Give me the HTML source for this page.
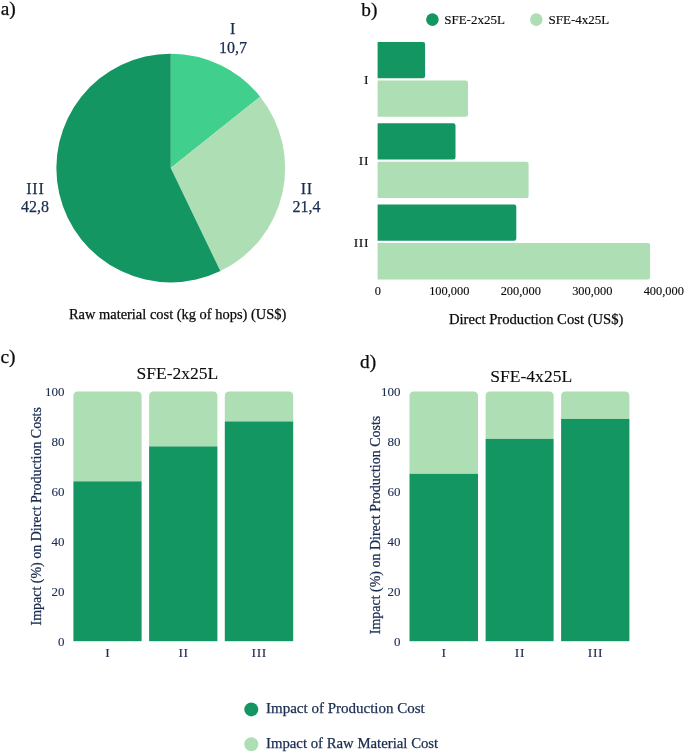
<!DOCTYPE html>
<html lang="en"><head><meta charset="utf-8"><title>Figure</title>
<style>
html,body{margin:0;padding:0;background:#fff;}
body{width:685px;height:752px;overflow:hidden;}
svg{display:block;}
text{font-family:"Liberation Serif","Times New Roman",serif;}
.nv{fill:#1a2c51;stroke:#1a2c51;stroke-width:0.25px;}
.bk{fill:#0a0a0a;stroke:#0a0a0a;stroke-width:0.25px;}
.lg{stroke-width:0.15px;}
.rn{letter-spacing:0.05em;}
.tk{stroke-width:0.12px;}
.tt{stroke-width:0.1px;}
</style></head><body>
<svg width="685" height="752" viewBox="0 0 685 752">
<rect width="685" height="752" fill="#fff"/>
<text x="0.8" y="14.8" font-size="19.3" class="bk" text-anchor="start">a)</text>
<text x="361.3" y="15.8" font-size="19.3" class="bk" text-anchor="start">b)</text>
<text x="0.5" y="362.6" font-size="19.3" class="bk" text-anchor="start">c)</text>
<text x="360.1" y="367.8" font-size="19.3" class="bk" text-anchor="start">d)</text>
<path d="M170.75,168.05 L170.75,53.65 A114.4,114.4 0 0 1 260.19,96.72 Z" fill="#40CF8C"/>
<path d="M170.75,168.05 L260.19,96.72 A114.4,114.4 0 0 1 220.39,271.12 Z" fill="#AEDEB4"/>
<path d="M170.75,168.05 L220.39,271.12 A114.4,114.4 0 1 1 170.75,53.65 Z" fill="#139662"/>
<text x="233" y="33.6" font-size="16" class="nv rn" text-anchor="middle">I</text>
<text x="233" y="52.5" font-size="16" class="nv" text-anchor="middle">10,7</text>
<text x="306.8" y="193.6" font-size="16" class="nv rn" text-anchor="middle">II</text>
<text x="306.4" y="212.2" font-size="16" class="nv" text-anchor="middle">21,4</text>
<text x="35.4" y="193.6" font-size="16" class="nv rn" text-anchor="middle">III</text>
<text x="35" y="212.2" font-size="16" class="nv" text-anchor="middle">42,8</text>
<text x="177.6" y="319.4" font-size="14.45" class="bk" text-anchor="middle">Raw material cost (kg of hops) (US$)</text>
<circle cx="432.4" cy="19.6" r="6.3" fill="#139662"/>
<text x="444.2" y="24.4" font-size="13" class="bk lg" text-anchor="start">SFE-2x25L</text>
<circle cx="536.3" cy="19.6" r="6.3" fill="#AEDEB4"/>
<text x="548.5" y="24.4" font-size="13" class="bk lg" text-anchor="start">SFE-4x25L</text>
<path d="M377.6,41.90 H422.90 Q425.10,41.90 425.10,44.10 V76.00 Q425.10,78.20 422.90,78.20 H377.6 Z" fill="#139662"/>
<path d="M377.6,80.50 H465.80 Q468.00,80.50 468.00,82.70 V114.60 Q468.00,116.80 465.80,116.80 H377.6 Z" fill="#AEDEB4"/>
<path d="M377.6,123.20 H453.30 Q455.50,123.20 455.50,125.40 V157.30 Q455.50,159.50 453.30,159.50 H377.6 Z" fill="#139662"/>
<path d="M377.6,161.80 H526.40 Q528.60,161.80 528.60,164.00 V195.90 Q528.60,198.10 526.40,198.10 H377.6 Z" fill="#AEDEB4"/>
<path d="M377.6,204.50 H514.10 Q516.30,204.50 516.30,206.70 V238.60 Q516.30,240.80 514.10,240.80 H377.6 Z" fill="#139662"/>
<path d="M377.6,243.10 H647.90 Q650.10,243.10 650.10,245.30 V277.20 Q650.10,279.40 647.90,279.40 H377.6 Z" fill="#AEDEB4"/>
<text x="369.2" y="84.0" font-size="13.5" class="bk lg rn" text-anchor="end">I</text>
<text x="369.2" y="165.3" font-size="13.5" class="bk lg rn" text-anchor="end">II</text>
<text x="369.2" y="246.6" font-size="13.5" class="bk lg rn" text-anchor="end">III</text>
<text x="377.8" y="294.6" font-size="12.4" class="bk tk" text-anchor="middle">0</text>
<text x="449.3" y="294.6" font-size="12.4" class="bk tk" text-anchor="middle">100,000</text>
<text x="520.8" y="294.6" font-size="12.4" class="bk tk" text-anchor="middle">200,000</text>
<text x="592.3" y="294.6" font-size="12.4" class="bk tk" text-anchor="middle">300,000</text>
<text x="663.8" y="294.6" font-size="12.4" class="bk tk" text-anchor="middle">400,000</text>
<text x="536.2" y="324" font-size="14.65" class="bk" text-anchor="middle">Direct Production Cost (US$)</text>
<path d="M73.4,481.39 V396.0 Q73.4,391.5 77.9,391.5 H137.1 Q141.6,391.5 141.6,396.0 V481.39 Z" fill="#AEDEB4"/>
<rect x="73.4" y="481.39" width="68.20" height="159.81" fill="#139662"/>
<path d="M149.1,446.43 V396.0 Q149.1,391.5 153.6,391.5 H212.9 Q217.4,391.5 217.4,396.0 V446.43 Z" fill="#AEDEB4"/>
<rect x="149.1" y="446.43" width="68.30" height="194.77" fill="#139662"/>
<path d="M224.8,421.46 V396.0 Q224.8,391.5 229.3,391.5 H288.7 Q293.2,391.5 293.2,396.0 V421.46 Z" fill="#AEDEB4"/>
<rect x="224.8" y="421.46" width="68.40" height="219.74" fill="#139662"/>
<text x="107.8" y="657.0" font-size="13.5" class="nv lg rn" text-anchor="middle">I</text>
<text x="183.55" y="657.0" font-size="13.5" class="nv lg rn" text-anchor="middle">II</text>
<text x="259.3" y="657.0" font-size="13.5" class="nv lg rn" text-anchor="middle">III</text>
<text x="64.6" y="645.5" font-size="13" class="nv tk" text-anchor="end">0</text>
<text x="64.6" y="595.5" font-size="13" class="nv tk" text-anchor="end">20</text>
<text x="64.6" y="545.5" font-size="13" class="nv tk" text-anchor="end">40</text>
<text x="64.6" y="495.5" font-size="13" class="nv tk" text-anchor="end">60</text>
<text x="64.6" y="445.5" font-size="13" class="nv tk" text-anchor="end">80</text>
<text x="64.6" y="395.5" font-size="13" class="nv tk" text-anchor="end">100</text>
<text transform="translate(40.9,516.3) rotate(-90)" font-size="13.97" class="nv" text-anchor="middle">Impact (%) on Direct Production Costs</text>
<text x="136.5" y="378.9" font-size="17.55" class="bk tt" text-anchor="start">SFE-2x25L</text>
<path d="M409.5,473.90 V396.0 Q409.5,391.5 414.0,391.5 H473.5 Q478.0,391.5 478.0,396.0 V473.90 Z" fill="#AEDEB4"/>
<rect x="409.5" y="473.90" width="68.50" height="167.30" fill="#139662"/>
<path d="M485.6,438.94 V396.0 Q485.6,391.5 490.1,391.5 H549.1 Q553.6,391.5 553.6,396.0 V438.94 Z" fill="#AEDEB4"/>
<rect x="485.6" y="438.94" width="68.00" height="202.26" fill="#139662"/>
<path d="M561.1,418.97 V396.0 Q561.1,391.5 565.6,391.5 H624.9 Q629.4,391.5 629.4,396.0 V418.97 Z" fill="#AEDEB4"/>
<rect x="561.1" y="418.97" width="68.30" height="222.23" fill="#139662"/>
<text x="444.05" y="657.0" font-size="13.5" class="nv lg rn" text-anchor="middle">I</text>
<text x="519.9" y="657.0" font-size="13.5" class="nv lg rn" text-anchor="middle">II</text>
<text x="595.55" y="657.0" font-size="13.5" class="nv lg rn" text-anchor="middle">III</text>
<text x="400.6" y="645.5" font-size="13" class="nv tk" text-anchor="end">0</text>
<text x="400.6" y="595.5" font-size="13" class="nv tk" text-anchor="end">20</text>
<text x="400.6" y="545.5" font-size="13" class="nv tk" text-anchor="end">40</text>
<text x="400.6" y="495.5" font-size="13" class="nv tk" text-anchor="end">60</text>
<text x="400.6" y="445.5" font-size="13" class="nv tk" text-anchor="end">80</text>
<text x="400.6" y="395.5" font-size="13" class="nv tk" text-anchor="end">100</text>
<text transform="translate(380.0,525) rotate(-90)" font-size="13.97" class="nv" text-anchor="middle">Impact (%) on Direct Production Costs</text>
<text x="490.3" y="381.6" font-size="17.55" class="bk tt" text-anchor="start">SFE-4x25L</text>
<circle cx="251.3" cy="709.4" r="7" fill="#139662"/>
<text x="266.0" y="712.8" font-size="15" class="nv" text-anchor="start">Impact of Production Cost</text>
<circle cx="251.3" cy="744.2" r="7" fill="#AEDEB4"/>
<text x="266.0" y="747.9" font-size="14.78" class="nv" text-anchor="start">Impact of Raw Material Cost</text>
</svg></body></html>
